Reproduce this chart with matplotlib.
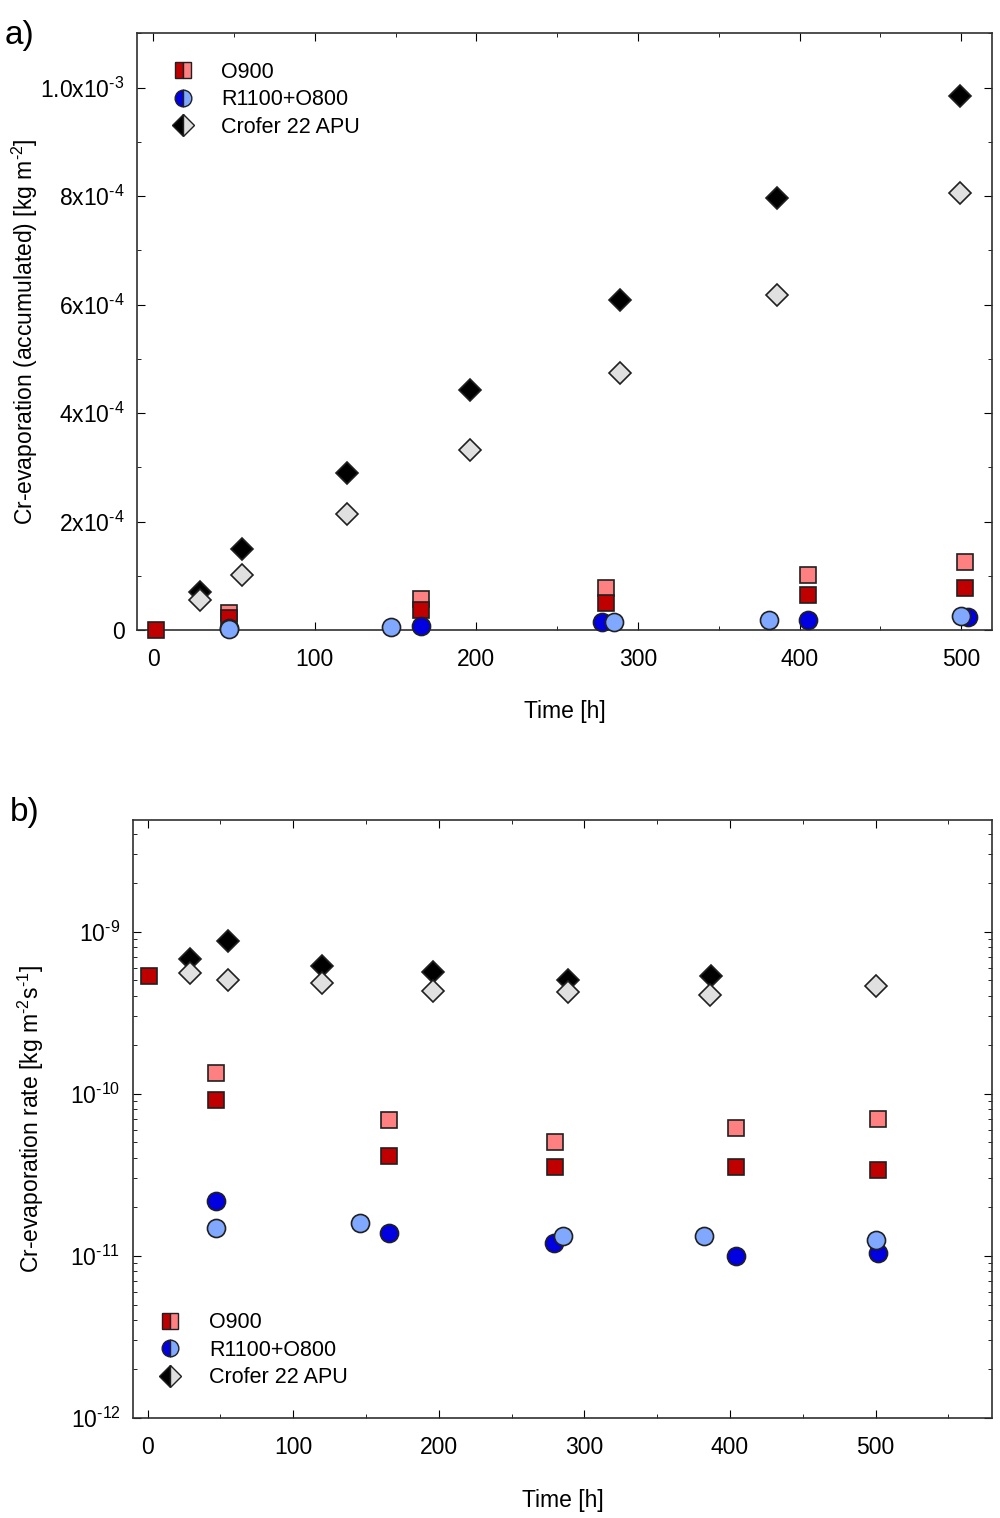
"""Cr-evaporation: accumulated amount (a) and rate (b) vs. time."""

import matplotlib
matplotlib.use("Agg")
import matplotlib.pyplot as plt
from matplotlib.lines import Line2D
from matplotlib.ticker import FixedLocator, MultipleLocator, LogLocator, NullFormatter

plt.rcParams["font.family"] = ["Liberation Sans", "DejaVu Sans"]
plt.rcParams["mathtext.fontset"] = "custom"
plt.rcParams["mathtext.rm"] = "Liberation Sans"
plt.rcParams["mathtext.it"] = "Liberation Sans"

# ---- panel a: accumulated Cr-evaporation [kg m-2] ----
a_o900_dark_t = [2, 47, 166, 280, 405, 502]
a_o900_dark_y = [0.0, 0.22e-4, 0.37e-4, 0.50e-4, 0.65e-4, 0.77e-4]
a_o900_light_t = [47, 166, 280, 405, 502]
a_o900_light_y = [0.32e-4, 0.58e-4, 0.77e-4, 1.02e-4, 1.26e-4]

a_r1100_dark_t = [47, 166, 278, 405, 504]
a_r1100_dark_y = [0.04e-4, 0.07e-4, 0.15e-4, 0.18e-4, 0.23e-4]
a_r1100_light_t = [47, 147, 285, 381, 500]
a_r1100_light_y = [0.02e-4, 0.06e-4, 0.15e-4, 0.19e-4, 0.25e-4]

a_crofer_dark_t = [29, 55, 120, 196, 289, 386, 499]
a_crofer_dark_y = [0.70e-4, 1.50e-4, 2.90e-4, 4.43e-4, 6.09e-4, 7.96e-4, 9.84e-4]
a_crofer_light_t = [29, 55, 120, 196, 289, 386, 499]
a_crofer_light_y = [0.55e-4, 1.02e-4, 2.14e-4, 3.32e-4, 4.73e-4, 6.17e-4, 8.05e-4]

a_yticks = [0, 2e-4, 4e-4, 6e-4, 8e-4, 1e-3]
a_yticklabels = ["0", r"2x10$^{\text{-}4}$", r"4x10$^{\text{-}4}$", r"6x10$^{\text{-}4}$",
                 r"8x10$^{\text{-}4}$", r"1.0x10$^{\text{-}3}$"]

# ---- panel b: Cr-evaporation rate [kg m-2 s-1] ----
b_o900_dark_t = [1, 47, 166, 280, 404, 502]
b_o900_dark_y = [5.35e-10, 9.2e-11, 4.1e-11, 3.54e-11, 3.54e-11, 3.4e-11]
b_o900_light_t = [47, 166, 280, 404, 502]
b_o900_light_y = [1.35e-10, 6.9e-11, 5.06e-11, 6.1e-11, 7.0e-11]

b_r1100_dark_t = [47, 166, 279, 404, 502]
b_r1100_dark_y = [2.18e-11, 1.39e-11, 1.2e-11, 1.0e-11, 1.04e-11]
b_r1100_light_t = [47, 146, 285, 382, 500]
b_r1100_light_y = [1.49e-11, 1.6e-11, 1.33e-11, 1.33e-11, 1.25e-11]

b_crofer_dark_t = [29, 55, 120, 196, 289, 387]
b_crofer_dark_y = [6.8e-10, 8.7e-10, 6.1e-10, 5.67e-10, 5.06e-10, 5.35e-10]
b_crofer_light_t = [29, 55, 120, 196, 289, 386, 500]
b_crofer_light_y = [5.58e-10, 5.0e-10, 4.85e-10, 4.33e-10, 4.26e-10, 4.08e-10, 4.64e-10]

b_yticks = [1e-12, 1e-11, 1e-10, 1e-9]
b_yticklabels = [r"10$^{\text{-}12}$", r"10$^{\text{-}11}$", r"10$^{\text{-}10}$",
                 r"10$^{\text{-}9}$"]

labels = ["O900", "R1100+O800", "Crofer 22 APU"]

RED_D, RED_L = "#c00000", "#ff8080"
BLUE_D, BLUE_L = "#0000e0", "#80a8ff"
BLK_D, BLK_L = "#000000", "#e0e0e0"


def draw(ax, series):
    for t, y, marker, color, ms in series:
        ax.plot(t, y, linestyle="none", marker=marker, ms=ms, mfc=color,
                mec="#202020", mew=1.2, zorder=3, clip_on=False)


def legend(ax, loc, anchor, spacing, textpad):
    handles = [
        Line2D([], [], ls="none", marker="s", ms=11, mfc=RED_D, mfcalt=RED_L,
               fillstyle="left", mec="#202020", mew=1.0),
        Line2D([], [], ls="none", marker="o", ms=12, mfc=BLUE_D, mfcalt=BLUE_L,
               fillstyle="left", mec="#202020", mew=1.0),
        Line2D([], [], ls="none", marker="D", ms=11, mfc=BLK_D, mfcalt=BLK_L,
               fillstyle="left", mec="#202020", mew=1.0),
    ]
    ax.legend(handles, labels, loc=loc, bbox_to_anchor=anchor, frameon=False,
              fontsize=15.5, handletextpad=textpad, labelspacing=spacing,
              borderaxespad=0)


def style(ax):
    ax.tick_params(which="both", direction="in", top=True, right=True,
                   labelsize=16.5)
    ax.tick_params(axis="x", pad=13)
    ax.tick_params(axis="y", pad=9)
    ax.tick_params(which="major", length=6)
    ax.tick_params(which="minor", length=3)
    for s in ax.spines.values():
        s.set_color("#303030")
        s.set_linewidth(1.2)


fig = plt.figure(figsize=(10, 15.18), dpi=100)

# panel a
ax1 = fig.add_axes([0.137, 0.585, 0.855, 0.393])
draw(ax1, [
    (a_o900_light_t, a_o900_light_y, "s", RED_L, 11),
    (a_o900_dark_t, a_o900_dark_y, "s", RED_D, 11),
    (a_r1100_dark_t, a_r1100_dark_y, "o", BLUE_D, 13),
    (a_r1100_light_t, a_r1100_light_y, "o", BLUE_L, 13),
    (a_crofer_dark_t, a_crofer_dark_y, "D", BLK_D, 11),
    (a_crofer_light_t, a_crofer_light_y, "D", BLK_L, 11),
])
ax1.set_xlim(-10, 519)
ax1.set_ylim(0, 1.1e-3)
ax1.xaxis.set_major_locator(MultipleLocator(100))
ax1.xaxis.set_minor_locator(MultipleLocator(50))
ax1.yaxis.set_major_locator(FixedLocator(a_yticks))
ax1.set_yticklabels(a_yticklabels)
ax1.yaxis.set_minor_locator(MultipleLocator(1e-4))
ax1.set_xlabel("Time [h]", fontsize=16.5)
ax1.set_ylabel(r"Cr-evaporation (accumulated) [kg m$^{\text{-}2}$]", fontsize=16.5)
ax1.xaxis.set_label_coords(0.5, -0.117)
ax1.yaxis.set_label_coords(-0.113, 0.5)
style(ax1)
legend(ax1, "upper left", (0.018, 0.967), 0.3, 0.8)
fig.text(0.005, 0.987, "a)", fontsize=24, va="top")

# panel b
ax2 = fig.add_axes([0.133, 0.066, 0.859, 0.394])
draw(ax2, [
    (b_o900_light_t, b_o900_light_y, "s", RED_L, 11),
    (b_o900_dark_t, b_o900_dark_y, "s", RED_D, 11),
    (b_r1100_dark_t, b_r1100_dark_y, "o", BLUE_D, 13),
    (b_r1100_light_t, b_r1100_light_y, "o", BLUE_L, 13),
    (b_crofer_dark_t, b_crofer_dark_y, "D", BLK_D, 11),
    (b_crofer_light_t, b_crofer_light_y, "D", BLK_L, 11),
])
ax2.set_yscale("log")
ax2.set_xlim(-10, 580)
ax2.set_ylim(1e-12, 4.9e-9)
ax2.xaxis.set_major_locator(MultipleLocator(100))
ax2.xaxis.set_minor_locator(MultipleLocator(50))
ax2.yaxis.set_major_locator(FixedLocator(b_yticks))
ax2.set_yticklabels(b_yticklabels)
ax2.yaxis.set_minor_locator(LogLocator(base=10, subs=range(2, 10), numticks=10))
ax2.yaxis.set_minor_formatter(NullFormatter())
ax2.set_xlabel("Time [h]", fontsize=16.5)
ax2.set_ylabel(r"Cr-evaporation rate [kg m$^{\text{-}2}$s$^{\text{-}1}$]", fontsize=16.5)
ax2.xaxis.set_label_coords(0.5, -0.1196)
ax2.yaxis.set_label_coords(-0.101, 0.5)
style(ax2)
legend(ax2, "lower left", (0.008, 0.035), 0.3, 0.83)
fig.text(0.01, 0.475, "b)", fontsize=24, va="top")

fig.savefig("out.png", dpi=100)
